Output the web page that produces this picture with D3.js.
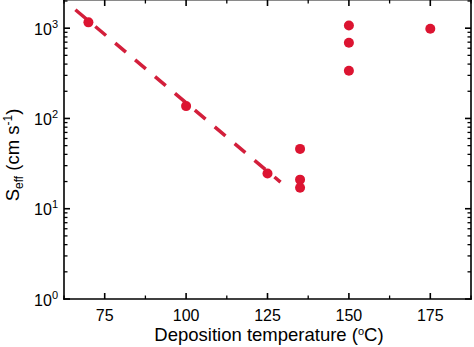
<!DOCTYPE html>
<html>
<head>
<meta charset="utf-8">
<script src="https://cdn.jsdelivr.net/npm/d3@7/dist/d3.min.js"></script>
<style>
  html, body { margin: 0; padding: 0; background: #fff; }
  svg { display: block; font-family: "Liberation Sans", Arial, sans-serif; }
</style>
</head>
<body>
<svg id="chart" width="474" height="347"></svg>
<script>
// Surface recombination velocity vs. deposition temperature
const temperature = [70, 100, 125, 135, 135, 135, 150, 150, 150, 175];
const sEff        = [1160, 137, 24.6, 46, 21, 17.1, 1070, 690, 337, 985];

// Exponential trend through the low-temperature points (dashed)
const fitT = [66, 129];
const fitS = [1600, 19.7];

const xTicks = [75, 100, 125, 150, 175];
const xMinorTicks = [62.5, 87.5, 112.5, 137.5, 162.5, 187.5];
const yDecades = [0, 1, 2, 3];

const red = "#dc1431";
const lineRed = "#d31f3b";

const svg = d3.select("#chart");
const m = { left: 64, right: 471, top: 1, bottom: 299 };

const x = d3.scaleLinear().domain([62.5, 187.5]).range([m.left, m.right]);
const y = d3.scaleLog().domain([1, 2000]).range([m.bottom, m.top]);

const g = svg.append("g");

// Minor log ticks on both vertical axes
const yMinor = y.ticks().filter(v => !yDecades.includes(Math.round(Math.log10(v) * 1000) / 1000));

function vAxis(xPos, dir) {
  const ax = g.append("g");
  ax.append("line").attr("x1", xPos).attr("x2", xPos)
    .attr("y1", 0).attr("y2", m.bottom + 0.75)
    .attr("stroke", "#000").attr("stroke-width", 1.6);
  ax.selectAll(".maj").data(yDecades.map(d => Math.pow(10, d))).enter().append("line")
    .attr("x1", xPos).attr("x2", xPos + dir * 6)
    .attr("y1", d => y(d)).attr("y2", d => y(d))
    .attr("stroke", "#000").attr("stroke-width", 1.6);
  ax.selectAll(".min").data(yMinor).enter().append("line")
    .attr("x1", xPos).attr("x2", xPos + dir * 3.5)
    .attr("y1", d => y(d)).attr("y2", d => y(d))
    .attr("stroke", "#000").attr("stroke-width", 1.3);
}

function hAxis(yPos, dir, lineColor, lineWidth) {
  const ax = g.append("g");
  ax.append("line").attr("x1", m.left - 0.8).attr("x2", m.right + 0.8)
    .attr("y1", yPos).attr("y2", yPos)
    .attr("stroke", lineColor).attr("stroke-width", lineWidth);
  ax.selectAll(".maj").data(xTicks).enter().append("line")
    .attr("x1", d => x(d)).attr("x2", d => x(d))
    .attr("y1", yPos).attr("y2", yPos + dir * 6)
    .attr("stroke", "#000").attr("stroke-width", 1.6);
  ax.selectAll(".min").data(xMinorTicks).enter().append("line")
    .attr("x1", d => x(d)).attr("x2", d => x(d))
    .attr("y1", yPos).attr("y2", yPos + dir * 3.5)
    .attr("stroke", "#000").attr("stroke-width", 1.3);
}

hAxis(m.bottom, -1, "#000", 1.6);
hAxis(0, 1, "#8a8a8a", 2);
vAxis(m.left, 1);
vAxis(m.right, -1);

// Trend line
const line = d3.line().x(d => x(d[0])).y(d => y(d[1]));
g.append("path")
  .attr("d", line(d3.zip(fitT, fitS)))
  .attr("fill", "none")
  .attr("stroke", lineRed)
  .attr("stroke-width", 3.5)
  .attr("stroke-dasharray", "14,12");

// Data points
g.selectAll("circle").data(d3.zip(temperature, sEff)).enter().append("circle")
  .attr("cx", d => x(d[0])).attr("cy", d => y(d[1]))
  .attr("r", 5).attr("fill", red);

// X tick labels
g.selectAll(".xl").data(xTicks).enter().append("text")
  .attr("x", d => x(d)).attr("y", 321)
  .attr("text-anchor", "middle").attr("font-size", 16).attr("fill", "#000")
  .text(d => d);

// Y tick labels as powers of ten
const yl = g.selectAll(".yl").data(yDecades).enter().append("text")
  .attr("x", 58).attr("y", d => y(Math.pow(10, d)) + 6.5)
  .attr("text-anchor", "end").attr("font-size", 16).attr("fill", "#000");
yl.append("tspan").text("10");
yl.append("tspan").attr("dy", -7).attr("font-size", 11).text(d => d);

// Axis titles
const xt = g.append("text").attr("x", 269).attr("y", 341)
  .attr("text-anchor", "middle").attr("font-size", 18.5).attr("fill", "#000");
xt.append("tspan").text("Deposition temperature (");
xt.append("tspan").attr("dy", -6).attr("font-size", 11).text("o");
xt.append("tspan").attr("dy", 6).text("C)");

const yt = g.append("text")
  .attr("transform", "translate(18.5,155) rotate(-90)")
  .attr("text-anchor", "middle").attr("font-size", 18.5).attr("fill", "#000");
yt.append("tspan").text("S");
yt.append("tspan").attr("dy", 4.5).attr("font-size", 12).text("eff");
yt.append("tspan").attr("dy", -4.5).text(" (cm s");
yt.append("tspan").attr("dy", -7).attr("font-size", 12).text("-1");
yt.append("tspan").attr("dy", 7).text(")");
</script>
</body>
</html>
